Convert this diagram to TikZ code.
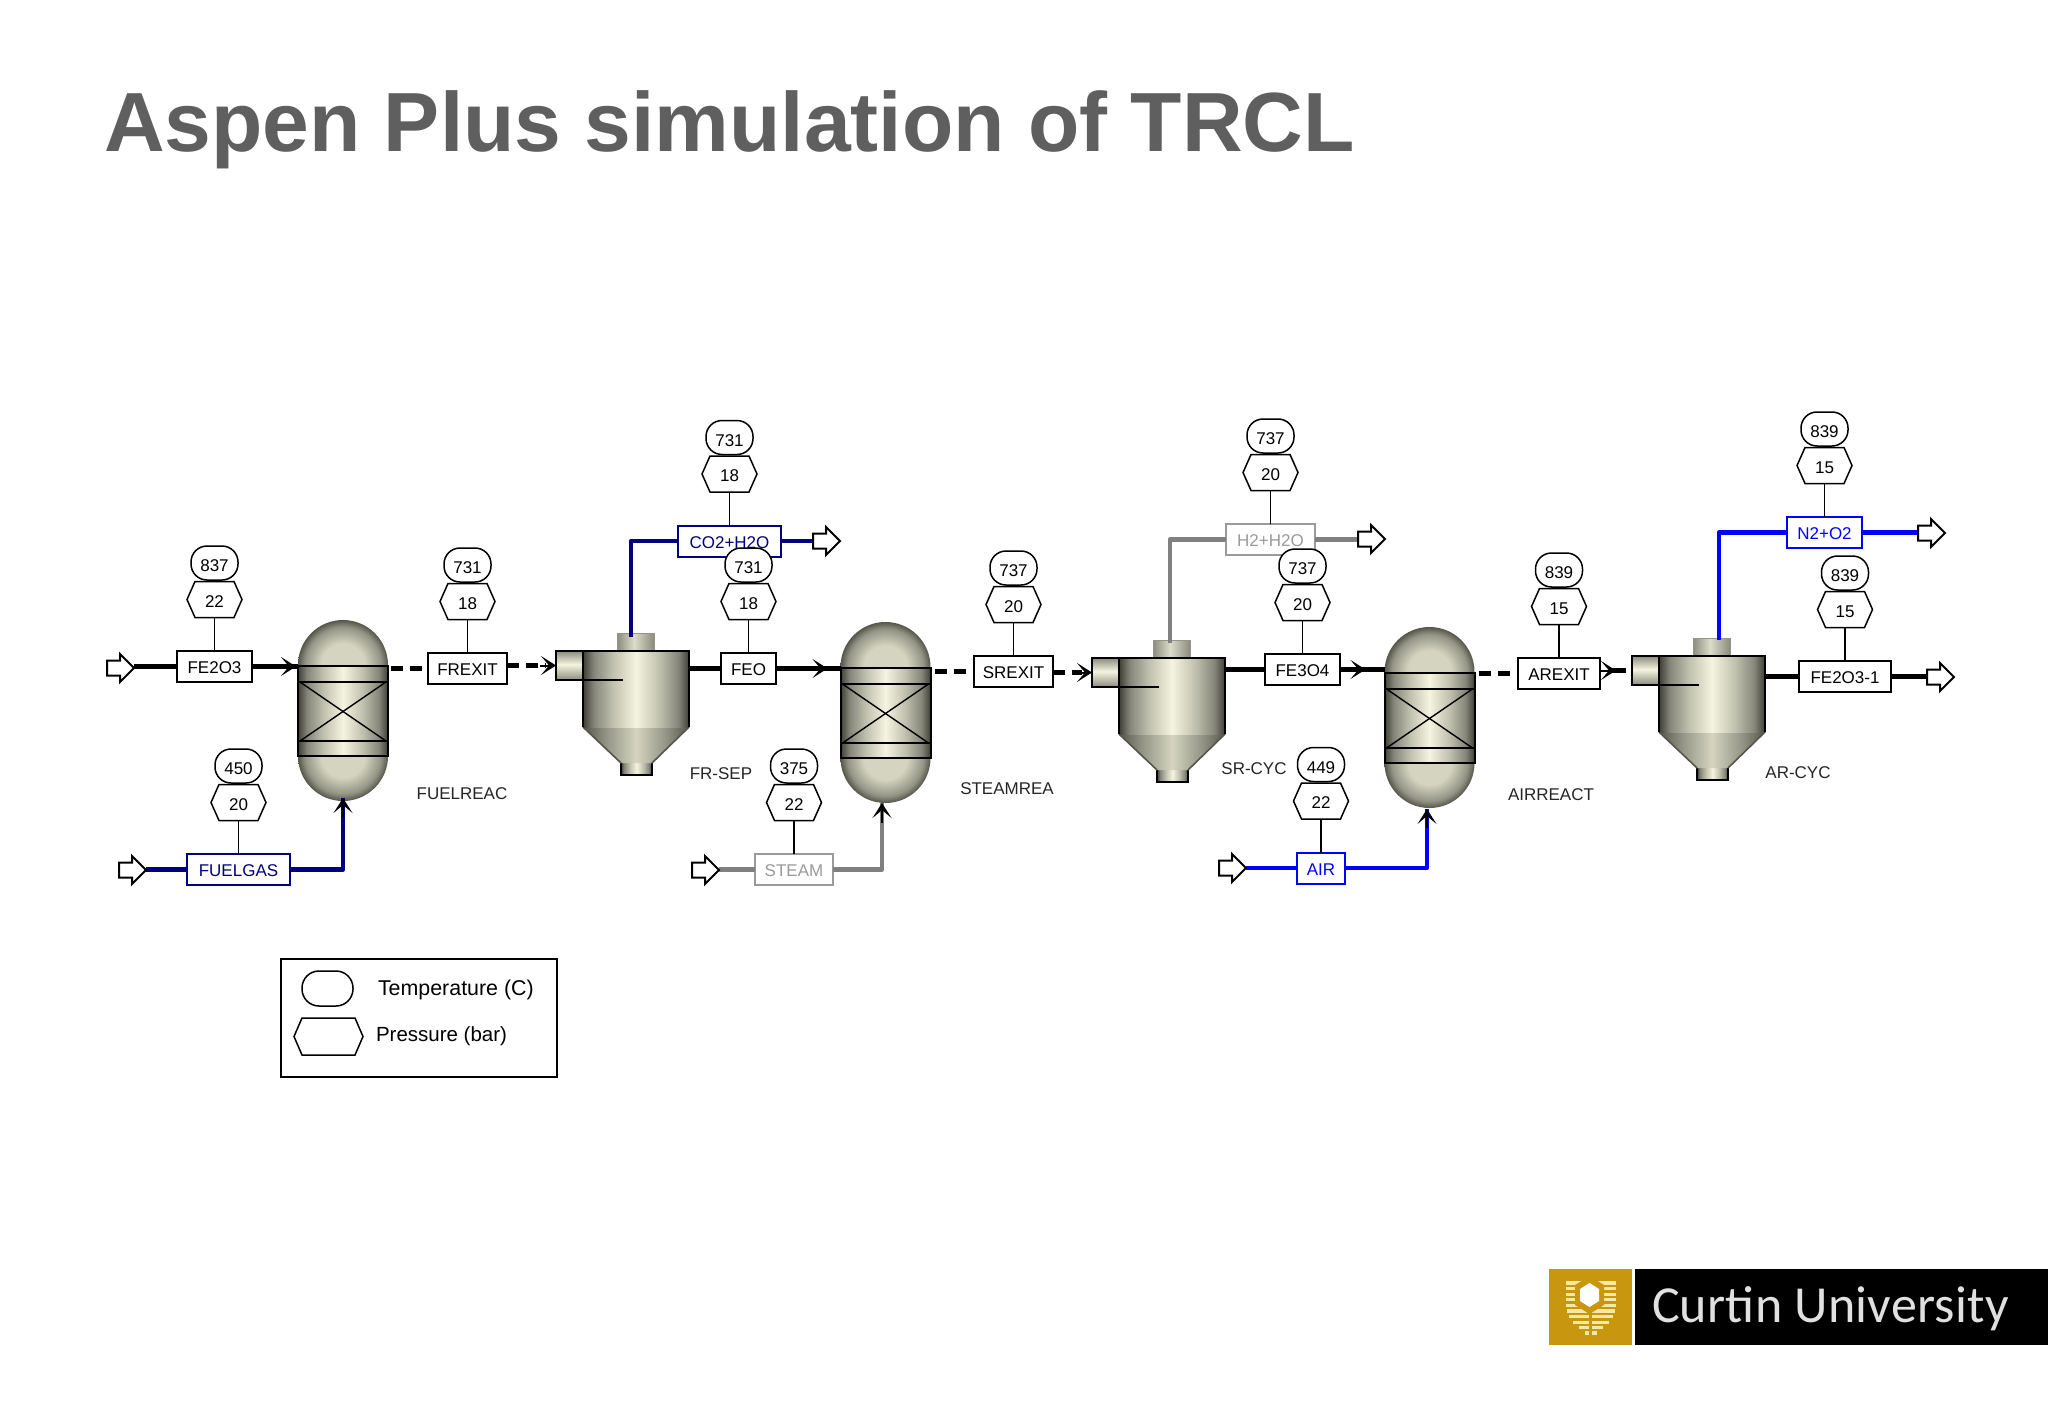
\documentclass[tikz,border=0pt]{standalone}
\usepackage{fontspec}
\setmainfont{Liberation Sans}
\newfontfamily\logofont{Carlito}[LetterSpace=0.5]
\usetikzlibrary{arrows.meta,calc}
\definecolor{vdark}{HTML}{3E3E34}
\definecolor{vlow}{HTML}{85857A}
\definecolor{vmid}{HTML}{C0C0AE}
\definecolor{vlight}{HTML}{F4F4E0}
\definecolor{conedark}{HTML}{55554A}
\definecolor{conelow}{HTML}{959587}
\definecolor{conemid}{HTML}{D4D4C0}
\definecolor{stubmid}{HTML}{DCDCCA}
\definecolor{stublow}{HTML}{8C8C7E}
\definecolor{navyline}{HTML}{000080}
\definecolor{blueline}{HTML}{0000FF}
\definecolor{grayline}{HTML}{808080}
\definecolor{grayedge}{HTML}{9A9A9A}
\definecolor{titlegray}{HTML}{5F5F5F}
\definecolor{logogold}{HTML}{C8960F}
\definecolor{logostripe}{HTML}{F3E9A6}
\pgfdeclarehorizontalshading{vessel}{100bp}{color(0bp)=(vdark); color(25bp)=(vdark); color(30bp)=(vlow); color(39bp)=(vmid); color(50bp)=(vlight); color(61bp)=(vmid); color(70bp)=(vlow); color(75bp)=(vdark); color(100bp)=(vdark)}
\pgfdeclarehorizontalshading{coneshade}{100bp}{color(0bp)=(conedark); color(25bp)=(conedark); color(36bp)=(conelow); color(50bp)=(conemid); color(64bp)=(conelow); color(75bp)=(conedark); color(100bp)=(conedark)}
\pgfdeclarehorizontalshading{stubshade}{100bp}{color(0bp)=(stublow); color(25bp)=(stublow); color(48bp)=(stubmid); color(75bp)=(stublow); color(100bp)=(stublow)}
\pgfdeclareverticalshading{inletshade}{100bp}{color(0bp)=(stublow); color(25bp)=(stublow); color(52bp)=(vlight); color(75bp)=(stublow); color(100bp)=(stublow)}
\pgfdeclareradialshading{domeshade}{\pgfpoint{0bp}{0bp}}{color(0bp)=(conemid); color(12bp)=(conemid); color(21bp)=(conelow); color(25bp)=(conedark); color(50bp)=(conedark)}
\tikzset{
  x=1pt,y=-1pt,
  every node/.style={font=\fontsize{17}{17}\selectfont,inner sep=0pt,outer sep=0pt},
  sbox/.style={draw=#1,text=#1,fill=white,line width=2pt,rectangle,minimum height=31pt,text height=14.5pt},
  tbox/.style={sbox=black},
  oval/.style={draw=black,fill=white,line width=1.5pt,rectangle,rounded corners=16pt,minimum width=47pt,minimum height=34pt},
  hexbase/.style={rectangle,minimum width=55pt,minimum height=36pt},
  hexline/.style={draw=black,fill=white,line width=1.5pt,line join=miter},
  lead/.style={draw=black,line width=1.5pt},
  flow/.style={draw=#1,line width=4.5pt,line join=round},
  dflow/.style={draw=black,line width=4.5pt,dash pattern=on 12pt off 7pt},
  chev/.style={draw=black,line width=2pt,-{Stealth[length=15pt,width=19pt,inset=8pt]}},
  port/.style={draw=black,fill=white,line width=2pt,line join=miter},
  vessel edge/.style={draw=black,line width=2pt},
  unitlabel/.style={text=black!85},
}
\newcommand\reactorunit[3]{%
  \node[minimum width=90pt,minimum height=181pt] (#1) at ({#2},{#3+90.5}) {};
  \shade[shading=domeshade] ({#2},{#3+45}) circle (45pt);
  \shade[shading=domeshade] ({#2},{#3+136}) circle (45pt);
  \shade[shading=vessel] ({#2-45},{#3+46}) rectangle ({#2+45},{#3+136});
  \draw[vessel edge] ({#2-45},{#3+46}) -- ({#2-45},{#3+136}) -- ({#2+45},{#3+136}) -- ({#2+45},{#3+46}) -- cycle;
  \draw[vessel edge] ({#2-45},{#3+62}) -- ({#2+45},{#3+62});
  \draw[vessel edge] ({#2-45},{#3+121}) -- ({#2+45},{#3+121});
  \draw[line width=1.4pt] ({#2-43},{#3+62}) -- ({#2+43},{#3+121});
  \draw[line width=1.4pt] ({#2+43},{#3+62}) -- ({#2-43},{#3+121});
}
\newcommand\cycloneunit[3]{%
  \begin{scope}[shift={(#2,#3)}]
    \shade[shading=vessel] (621,763) rectangle (652,775);
    \draw[vessel edge] (621,763) -- (621,775) -- (652,775) -- (652,763);
    \shade[shading=coneshade] (583,727) -- (689,727) -- (652,763) -- (621,763) -- cycle;
    \draw[draw=conedark,line width=1.6pt] (583,727) -- (621,763) (689,727) -- (652,763);
    \node[rectangle,shading=stubshade,draw=conelow,line width=1pt,minimum width=37pt,minimum height=18pt] (#1top) at (635.5,642) {};
    \node[rectangle,shading=vessel,minimum width=106pt,minimum height=76pt] (#1) at (636,689) {};
    \draw[vessel edge] (583,727) -- (583,651) -- (689,651) -- (689,727);
    \node[rectangle,shading=inletshade,draw=black,line width=2pt,minimum width=27pt,minimum height=29pt] (#1in) at (569.5,665.5) {};
    \draw[vessel edge] (583,680) -- (623,680);
  \end{scope}
}
\newcommand\portsym[3]{%
  \draw[port] ({#2},{#3-7.5}) -- ({#2+13},{#3-7.5}) -- ({#2+13},{#3-14}) -- ({#2+27},{#3}) -- ({#2+13},{#3+14}) -- ({#2+13},{#3+7.5}) -- ({#2},{#3+7.5}) -- cycle;
}
\newcommand\hexoutline[2]{%
  \draw[hexline] (#1.west) -- ([xshift=#2]#1.north west) -- ([xshift=-#2]#1.north east) -- (#1.east) -- ([xshift=-#2]#1.south east) -- ([xshift=#2]#1.south west) -- cycle;
}
\newcommand\tagpair[4]{%
  \node[hexbase] (#1p) at ([yshift=51.5pt]#2.north) {};
  \hexoutline{#1p}{8pt}
  \node (#1pv) at ([yshift=-2pt]#1p.center) {#4};
  \node[oval] (#1t) at ([yshift=88pt]#2.north) {};
  \node (#1tv) at ([yshift=-3pt]#1t.center) {#3};
  \draw[lead] (#1p.south) -- (#2.north);
}
\begin{document}
\begin{tikzpicture}
\useasboundingbox (0,0) rectangle (2048,1418);
\fill[white] (0,0) rectangle (2048,1418);

\node[anchor=base west,text=titlegray,font=\fontsize{84}{84}\selectfont\bfseries] (title) at (104,151) {Aspen Plus simulation of TRCL};

\reactorunit{fuelreac}{343}{620}
\reactorunit{steamrea}{885.5}{622}
\reactorunit{airreact}{1429.5}{627}
\cycloneunit{frsep}{0}{0}
\cycloneunit{srcyc}{536}{7}
\cycloneunit{arcyc}{1076}{5}

\coordinate (pfe)  at (134,668);
\coordinate (pfg)  at (146,870);
\coordinate (pco)  at (813,541);
\coordinate (pst)  at (719,870);
\coordinate (ph)   at (1358,539);
\coordinate (pair) at (1246,868);
\coordinate (pn)   at (1918,533);
\coordinate (pfo)  at (1927,677);

\node[tbox,minimum width=75pt] (fe2o3) at (214.5,666.5) {FE2O3};
\node[sbox=navyline,minimum width=103pt] (fuelgas) at (238.5,869.5) {FUELGAS};
\node[tbox,minimum width=79pt] (frexit) at (467.5,668.5) {FREXIT};
\node[tbox,minimum width=55pt] (feo) at (748.5,668.5) {FEO};
\node[tbox,minimum width=79pt] (srexit) at (1013.5,671.5) {SREXIT};
\node[sbox=grayedge,text=grayedge,minimum width=78pt] (steam) at (794,869.5) {STEAM};
\node[tbox,minimum width=75pt] (fe3o4) at (1302.5,669.5) {FE3O4};
\node[sbox=blueline,minimum width=48pt] (air) at (1321,868) {AIR};
\node[tbox,minimum width=82pt] (arexit) at (1559,673.5) {AREXIT};
\node[sbox=blueline,minimum width=75pt] (n2o2) at (1824.5,532.5) {N2+O2};
\node[tbox,minimum width=92pt] (fe2o31) at (1845,676.5) {FE2O3-1};
\node[sbox=navyline,minimum width=103pt] (co2) at (729.5,541) {CO2+H2O};
\node[sbox=grayedge,text=grayedge,minimum width=89pt] (h2) at (1270.5,539.5) {H2+H2O};

\draw[flow=black] (pfe |- fe2o3.west) -- (fe2o3.west);
\draw[flow=black] (fe2o3.east) -- (fe2o3.east -| fuelreac.west);
\draw[chev] ([xshift=-18pt]fe2o3.east -| fuelreac.west) -- ([xshift=-2pt]fe2o3.east -| fuelreac.west);
\draw[flow=navyline] (pfg |- fuelgas.west) -- (fuelgas.west);
\draw[flow=navyline] (fuelgas.east) -| ([yshift=3pt]fuelreac.south);
\draw[chev] ([yshift=-17pt]fuelreac.south) -- ([yshift=3pt]fuelreac.south);

\draw[flow=black] (feo.west -| frsep.east) -- (feo.west);
\draw[flow=black] (feo.east) -- (feo.east -| steamrea.west);
\draw[chev] ([xshift=-29pt]feo.east -| steamrea.west) -- ([xshift=-13pt]feo.east -| steamrea.west);
\draw[flow=navyline] ([xshift=-4.5pt,yshift=-4pt]frseptop.north) |- (co2.west);
\draw[flow=navyline] (co2.east) -- (co2.east -| pco);
\draw[flow=grayline] (pst |- steam.west) -- (steam.west);
\draw[flow=grayline] (steam.east) -| ([xshift=-3.5pt]steamrea.south);
\draw[chev] ([xshift=-3.5pt,yshift=-20pt]steamrea.south) -- ([xshift=-3.5pt]steamrea.south);

\draw[flow=black] (fe3o4.west -| srcyc.east) -- (fe3o4.west);
\draw[flow=black] (fe3o4.east) -- (fe3o4.east -| airreact.west);
\draw[chev] ([xshift=-35pt]fe3o4.east -| airreact.west) -- ([xshift=-19pt]fe3o4.east -| airreact.west);
\draw[flow=grayline] ([xshift=-1.5pt,yshift=-3pt]srcyctop.north) |- (h2.west);
\draw[flow=grayline] (h2.east) -- (h2.east -| ph);
\draw[flow=blueline] (pair |- air.west) -- (air.west);
\draw[flow=blueline] (air.east) -| ([xshift=-2.5pt,yshift=-1pt]airreact.south);
\draw[chev] ([xshift=-2.5pt,yshift=-20pt]airreact.south) -- ([xshift=-2.5pt,yshift=-1pt]airreact.south);

\draw[flow=blueline] ([xshift=7.5pt,yshift=-2pt]arcyctop.north) |- (n2o2.west);
\draw[flow=blueline] (n2o2.east) -- (n2o2.east -| pn);
\draw[flow=black] (fe2o31.west -| arcyc.east) -- (fe2o31.west);
\draw[flow=black] (fe2o31.east) -- (fe2o31.east -| pfo);

\draw[dflow] ([xshift=3pt]frexit.west -| fuelreac.east) -- (frexit.west);
\draw[dflow] (frexit.east |- frsepin.west) -- ([xshift=-10pt]frsepin.west);
\draw[chev] ([xshift=-16pt]frsepin.west) -- (frsepin.west);
\draw[dflow] ([xshift=4pt]srexit.west -| steamrea.east) -- (srexit.west);
\draw[dflow] (srexit.east |- srcycin.west) -- ([xshift=-10pt]srcycin.west);
\draw[chev] ([xshift=-17pt]srcycin.west) -- (srcycin.west);
\draw[dflow] ([xshift=4pt]arexit.west -| airreact.east) -- (arexit.west);
\draw[flow=black] ([xshift=12pt]arexit.east |- arcycin.west) -- ([xshift=-6pt]arcycin.west);
\draw[chev] ([xshift=1pt]arexit.east |- arcycin.west) -- ([xshift=16pt]arexit.east |- arcycin.west);

\portsym{pfe}{107}{668}
\portsym{pfg}{119}{870}
\portsym{pco}{813}{541}
\portsym{pst}{692}{870}
\portsym{ph}{1358}{539}
\portsym{pair}{1219}{868}
\portsym{pn}{1918}{533}
\portsym{pfo}{1927}{677}

\tagpair{a}{fe2o3}{837}{22}
\tagpair{b}{fuelgas}{450}{20}
\tagpair{c}{frexit}{731}{18}
\tagpair{d}{co2}{731}{18}
\tagpair{e}{feo}{731}{18}
\tagpair{f}{steam}{375}{22}
\tagpair{g}{srexit}{737}{20}
\tagpair{h}{h2}{737}{20}
\tagpair{i}{fe3o4}{737}{20}
\tagpair{j}{air}{449}{22}
\tagpair{k}{arexit}{839}{15}
\tagpair{l}{n2o2}{839}{15}
\tagpair{m}{fe2o31}{839}{15}

\node[unitlabel] (lfuel) at (462,794) {FUELREAC};
\node[unitlabel] (lfr) at (721,774) {FR-SEP};
\node[unitlabel] (lsteam) at (1007,789) {STEAMREA};
\node[unitlabel] (lsr) at (1254,769) {SR-CYC};
\node[unitlabel] (lair) at (1551,795) {AIRREACT};
\node[unitlabel] (lar) at (1798,773) {AR-CYC};

\node[draw=black,line width=2pt,rectangle,minimum width=276pt,minimum height=118pt] (legend) at (419,1018) {};
\node[oval,minimum width=51pt,minimum height=35pt,rounded corners=17pt] (legt) at (327.5,988.5) {};
\node[hexbase,minimum width=69pt,minimum height=37pt] (legp) at (328.5,1036.5) {};
\hexoutline{legp}{8pt}
\node[anchor=west,font=\fontsize{21.4}{21.4}\selectfont] (legtt) at (378,989.5) {Temperature (C)};
\node[anchor=west,font=\fontsize{20.5}{20.5}\selectfont] (legpt) at (376,1036.5) {Pressure (bar)};

\fill[logogold] (1549,1269) rectangle (1632,1345);
\fill[black] (1635,1269) rectangle (2048,1345);
\foreach \yy/\hw in {1283/25,1288.6/25,1294.2/25,1299.8/25,1305.4/25,1311/24,1316.6/22,1322.2/18,1327.8/12,1333/6}{
  \fill[logostripe] ({1590.5-\hw},{\yy-1.6}) rectangle ({1590.5+\hw},{\yy+1.6});
}
\fill[logogold] (1588.8,1305) rectangle (1592.2,1337);
\fill[logogold] (1589.5,1276) -- (1604,1285) -- (1604,1305) -- (1589.5,1314) -- (1575,1305) -- (1575,1285) -- cycle;
\fill[white] (1589.5,1283) -- (1599,1289) -- (1599,1301) -- (1589.5,1307) -- (1580,1301) -- (1580,1289) -- cycle;
\node[anchor=base west,text=white!88!black,font=\fontsize{52}{52}\selectfont\logofont] (logotext) at (1652,1322) {Curtin University};
\end{tikzpicture}
\end{document}
